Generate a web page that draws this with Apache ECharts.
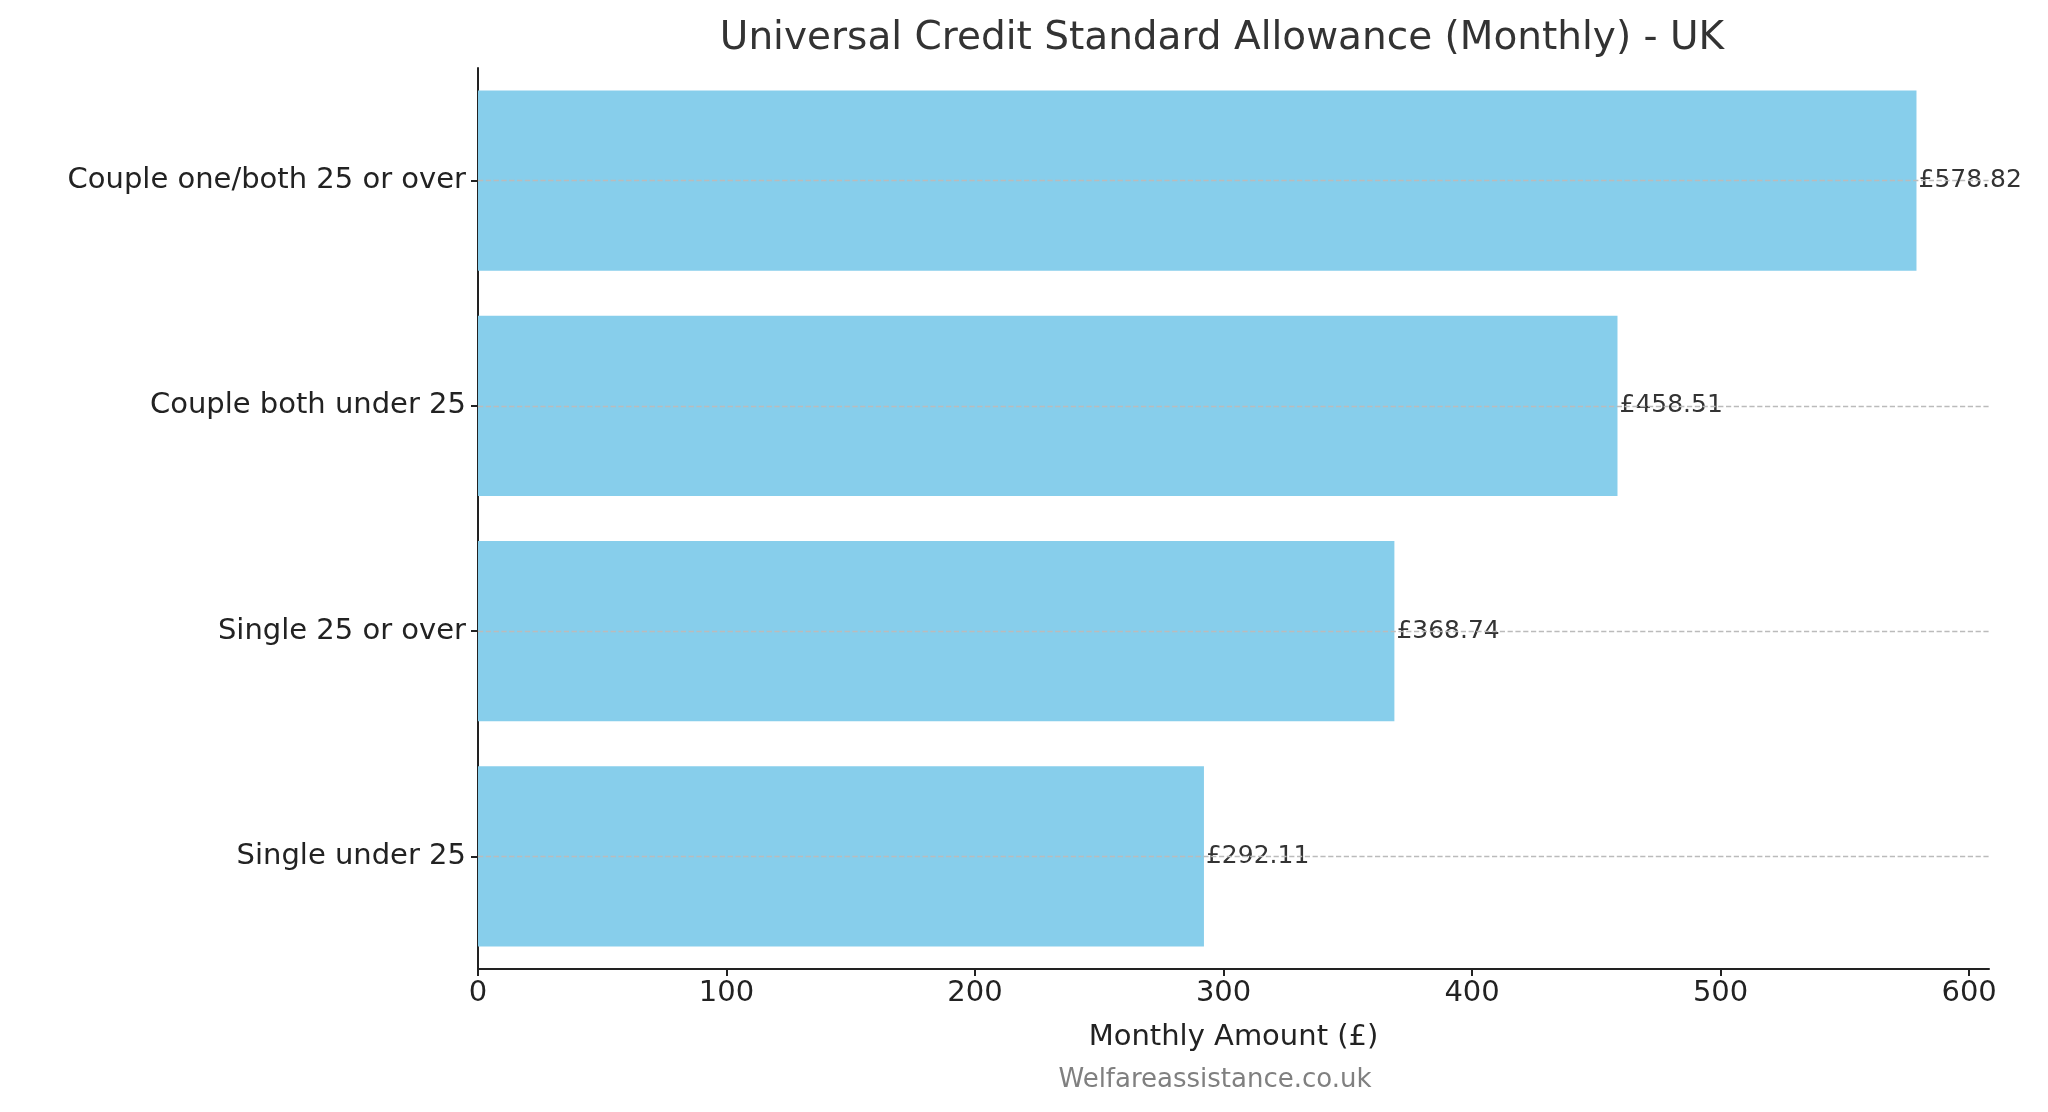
<!DOCTYPE html>
<html><head><meta charset="utf-8">
<script src="https://cdn.jsdelivr.net/npm/echarts@6/dist/echarts.min.js"></script>
<style>html,body{margin:0;padding:0;background:#fff}#c{width:2048px;height:1112px}</style>
</head><body><div id="c"></div>
<script>
const categories = ['Single under 25','Single 25 or over','Couple both under 25','Couple one/both 25 or over'];
const values = [292.11, 368.74, 458.51, 578.82];
const xTicks = [0,100,200,300,400,500,600];
const chart = echarts.init(document.getElementById('c'));
const F = 'DejaVu Sans';
chart.setOption({
  animation:false,
  title:[{text:'Universal Credit Standard Allowance (Monthly) - UK',left:1217,top:14,textAlign:'center',
    textStyle:{fontFamily:F,fontSize:39,fontWeight:'normal',color:'#333'}},
    {text:'Welfareassistance.co.uk',left:1210,top:1062,textAlign:'center',
    textStyle:{fontFamily:F,fontSize:26,fontWeight:'normal',color:'#808080'}}],
  grid:{left:478,right:59,top:68,bottom:143},
  xAxis:{type:'value',min:0,max:608,interval:100,
    name:'Monthly Amount (£)',nameLocation:'middle',nameGap:54,
    nameTextStyle:{fontFamily:F,fontSize:29,color:'#222'},
    axisLine:{show:true,lineStyle:{color:'#222',width:2}},
    axisTick:{show:true,length:7,lineStyle:{color:'#222',width:2}},
    axisLabel:{fontFamily:F,fontSize:29,color:'#222',margin:10,showMaxLabel:false,
      formatter:v=>xTicks.includes(v)?String(v):''},
    splitLine:{show:false}},
  yAxis:{type:'category',data:categories,
    axisLine:{show:true,lineStyle:{color:'#222',width:2}},
    axisTick:{show:true,alignWithLabel:true,length:7,lineStyle:{color:'#222',width:2}},
    axisLabel:{fontFamily:F,fontSize:29,color:'#222',margin:12},
    splitLine:{show:false}},
  series:[{type:'bar',data:values,barCategoryGap:'20%',
    itemStyle:{color:'#87CEEB'},
    label:{show:true,position:'right',distance:2,fontFamily:F,fontSize:25,color:'#333',
      formatter:p=>'£'+p.value.toFixed(2)},
    markLine:{silent:true,symbol:'none',label:{show:false},
      lineStyle:{type:'dashed',color:'#bbb',width:1.3},
      data:categories.map(c=>({yAxis:c}))}}]
});
</script></body></html>
